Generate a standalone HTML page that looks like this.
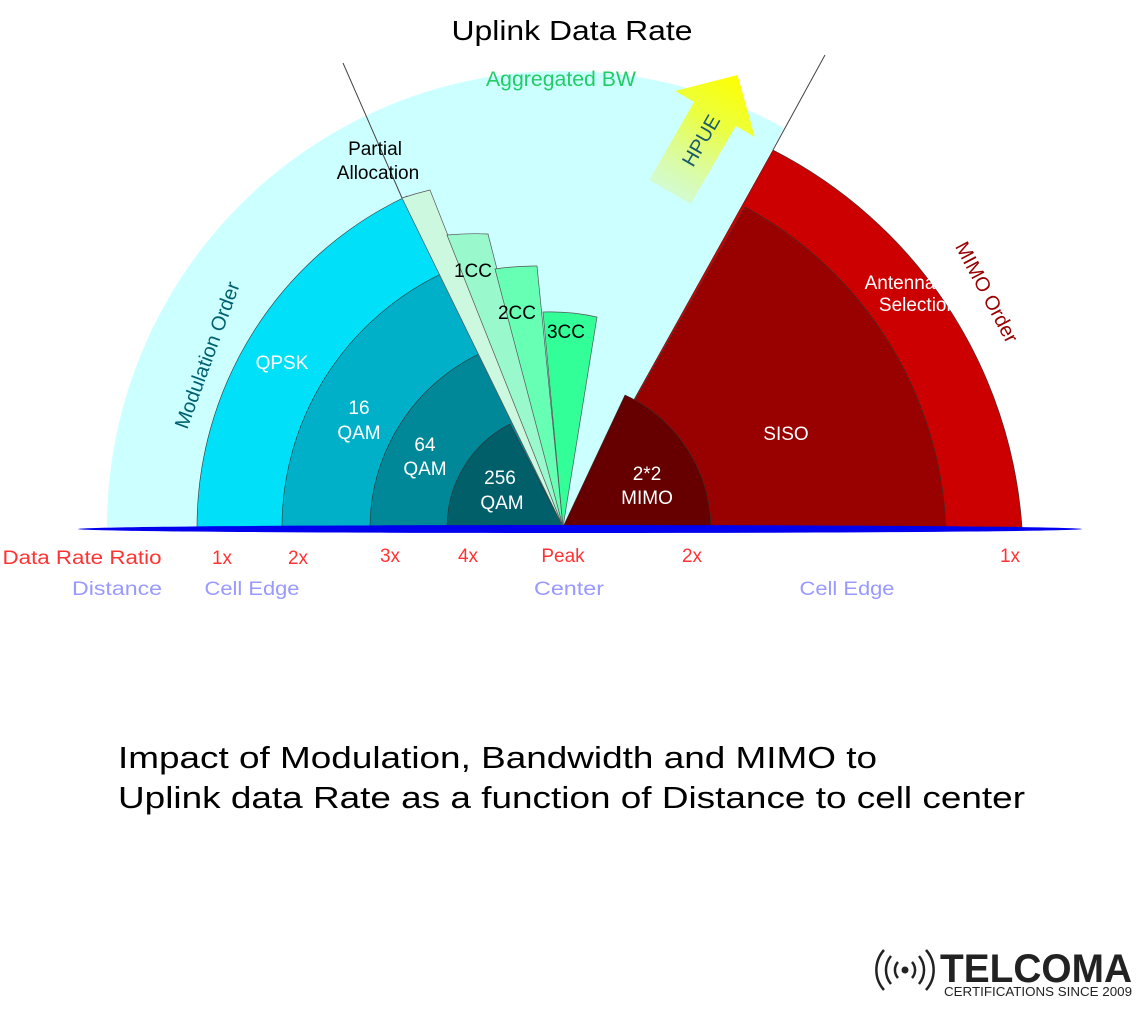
<!DOCTYPE html>
<html><head><meta charset="utf-8"><style>
body{margin:0;background:#fff;}
svg{display:block;font-family:"Liberation Sans",sans-serif;}
</style></head><body>
<svg width="1140" height="1009" viewBox="0 0 1140 1009">
<defs>
<linearGradient id="ag" x1="0" y1="1" x2="0" y2="0">
<stop offset="0" stop-color="#d8f8b0" stop-opacity="0.6"/>
<stop offset="0.6" stop-color="#eaff40"/>
<stop offset="1" stop-color="#ffff00"/>
</linearGradient>
</defs>
<path d="M563,527 L107,527 A456,456 0 0 1 784,128 Z" fill="#ccffff"/>
<path d="M563,527 L1022,527 A459,459 0 0 0 773,150 Z" fill="#cc0000" stroke="#333" stroke-width="0.6"/>
<path d="M563,527 L946,527 A383,383 0 0 0 745,207 Z" fill="#990000" stroke="#333" stroke-width="0.6"/>
<path d="M563,527 L711,527 A148,148 0 0 0 625,395 Z" fill="#660000" stroke="#333" stroke-width="0.6"/>
<path d="M563,527 L197,527 A366,366 0 0 1 407,196 Z" fill="#00e0f8" stroke="#333" stroke-width="0.6"/>
<path d="M563,527 L282,527 A281,281 0 0 1 443,273 Z" fill="#00b0c8" stroke="#333" stroke-width="0.6"/>
<path d="M563,527 L370,527 A193,193 0 0 1 481,353 Z" fill="#008898" stroke="#333" stroke-width="0.6"/>
<path d="M563,527 L447,527 A116,116 0 0 1 510,424 Z" fill="#005f68" stroke="#333" stroke-width="0.6"/>
<path d="M563,527 L402,198 A360,360 0 0 1 430,190 Z" fill="#ccf8e0" stroke="#555" stroke-width="0.7"/>
<path d="M563,527 L447,235 A300,300 0 0 1 488,234 Z" fill="#99f8cc" stroke="#555" stroke-width="0.7"/>
<path d="M563,527 L495,269 A260,260 0 0 1 537,266 Z" fill="#66ffb3" stroke="#555" stroke-width="0.7"/>
<path d="M563,527 L543,312 A215,215 0 0 1 597,317 Z" fill="#33ff99" stroke="#555" stroke-width="0.7"/>
<line x1="343" y1="63" x2="402" y2="198" stroke="#444" stroke-width="1"/>
<line x1="825" y1="55" x2="773" y2="150" stroke="#444" stroke-width="1"/>
<ellipse cx="580" cy="529" rx="502" ry="4" fill="#0000ee"/>
<g transform="translate(700,140) rotate(30)">
<polygon points="-24,60 24,60 24,-30 46,-30 0,-75 -46,-30 -24,-30" fill="url(#ag)"/>
<text x="0" y="8" transform="rotate(-90)" font-size="20" fill="#1a5a6a" text-anchor="middle">HPUE</text>
</g>
<g font-size="19" text-anchor="middle">
<text x="572" y="40" font-size="28" fill="#000" textLength="241" lengthAdjust="spacingAndGlyphs">Uplink Data Rate</text>
<text x="561" y="86" font-size="21" fill="#22cc66" textLength="150" lengthAdjust="spacingAndGlyphs">Aggregated BW</text>
<text x="375" y="155" fill="#000">Partial</text>
<text x="378" y="179" fill="#000">Allocation</text>
<text x="473" y="277" fill="#000">1CC</text>
<text x="517" y="319" fill="#000">2CC</text>
<text x="566" y="338" fill="#000">3CC</text>
<text x="282" y="369" fill="#fff">QPSK</text>
<text x="359" y="414" fill="#fff">16</text>
<text x="359" y="439" fill="#fff">QAM</text>
<text x="425" y="451" fill="#fff">64</text>
<text x="425" y="475" fill="#fff">QAM</text>
<text x="500" y="484" fill="#fff">256</text>
<text x="502" y="509" fill="#fff">QAM</text>
<text x="647" y="480" fill="#fff">2*2</text>
<text x="647" y="504" fill="#fff">MIMO</text>
<text x="786" y="440" fill="#fff">SISO</text>
<text x="900" y="289" fill="#fff">Antenna</text>
<text x="918" y="311" fill="#fff">Selection</text>
<text x="207" y="362" transform="rotate(-70 207 355)" fill="#006070" font-size="20">Modulation Order</text>
<text x="987" y="299" transform="rotate(62 987 292)" fill="#990000" font-size="20">MIMO Order</text>
<g fill="#ff3333">
<text x="82" y="564" textLength="159" lengthAdjust="spacingAndGlyphs">Data Rate Ratio</text>
<text x="222" y="564">1x</text>
<text x="298" y="564">2x</text>
<text x="390" y="562">3x</text>
<text x="468" y="562">4x</text>
<text x="563" y="562">Peak</text>
<text x="692" y="562">2x</text>
<text x="1010" y="562">1x</text>
</g>
<g fill="#9999ff">
<text x="117" y="595" textLength="90" lengthAdjust="spacingAndGlyphs">Distance</text>
<text x="252" y="595" textLength="95" lengthAdjust="spacingAndGlyphs">Cell Edge</text>
<text x="569" y="595" textLength="70" lengthAdjust="spacingAndGlyphs">Center</text>
<text x="847" y="595" textLength="95" lengthAdjust="spacingAndGlyphs">Cell Edge</text>
</g>
</g>
<text x="118" y="768" font-size="31" fill="#000" textLength="759" lengthAdjust="spacingAndGlyphs">Impact of Modulation, Bandwidth and MIMO to</text>
<text x="118" y="808" font-size="31" fill="#000" textLength="907" lengthAdjust="spacingAndGlyphs">Uplink data Rate as a function of Distance to cell center</text>
<g fill="none" stroke="#222" stroke-width="2.5">
<path d="M884,950 A30,30 0 0 0 884,990"/>
<path d="M891,956 A22,22 0 0 0 891,984"/>
<path d="M898,962 A12,12 0 0 0 898,978"/>
<path d="M926,950 A30,30 0 0 1 926,990"/>
<path d="M919,956 A22,22 0 0 1 919,984"/>
<path d="M912,962 A12,12 0 0 1 912,978"/>
</g>
<circle cx="905" cy="970" r="3.5" fill="#222"/>
<text x="940" y="982" font-size="40" font-weight="bold" fill="#222" textLength="192" lengthAdjust="spacingAndGlyphs">TELCOMA</text>
<text x="944" y="996" font-size="13" fill="#222" textLength="188" lengthAdjust="spacingAndGlyphs">CERTIFICATIONS SINCE 2009</text>
</svg>
</body></html>
